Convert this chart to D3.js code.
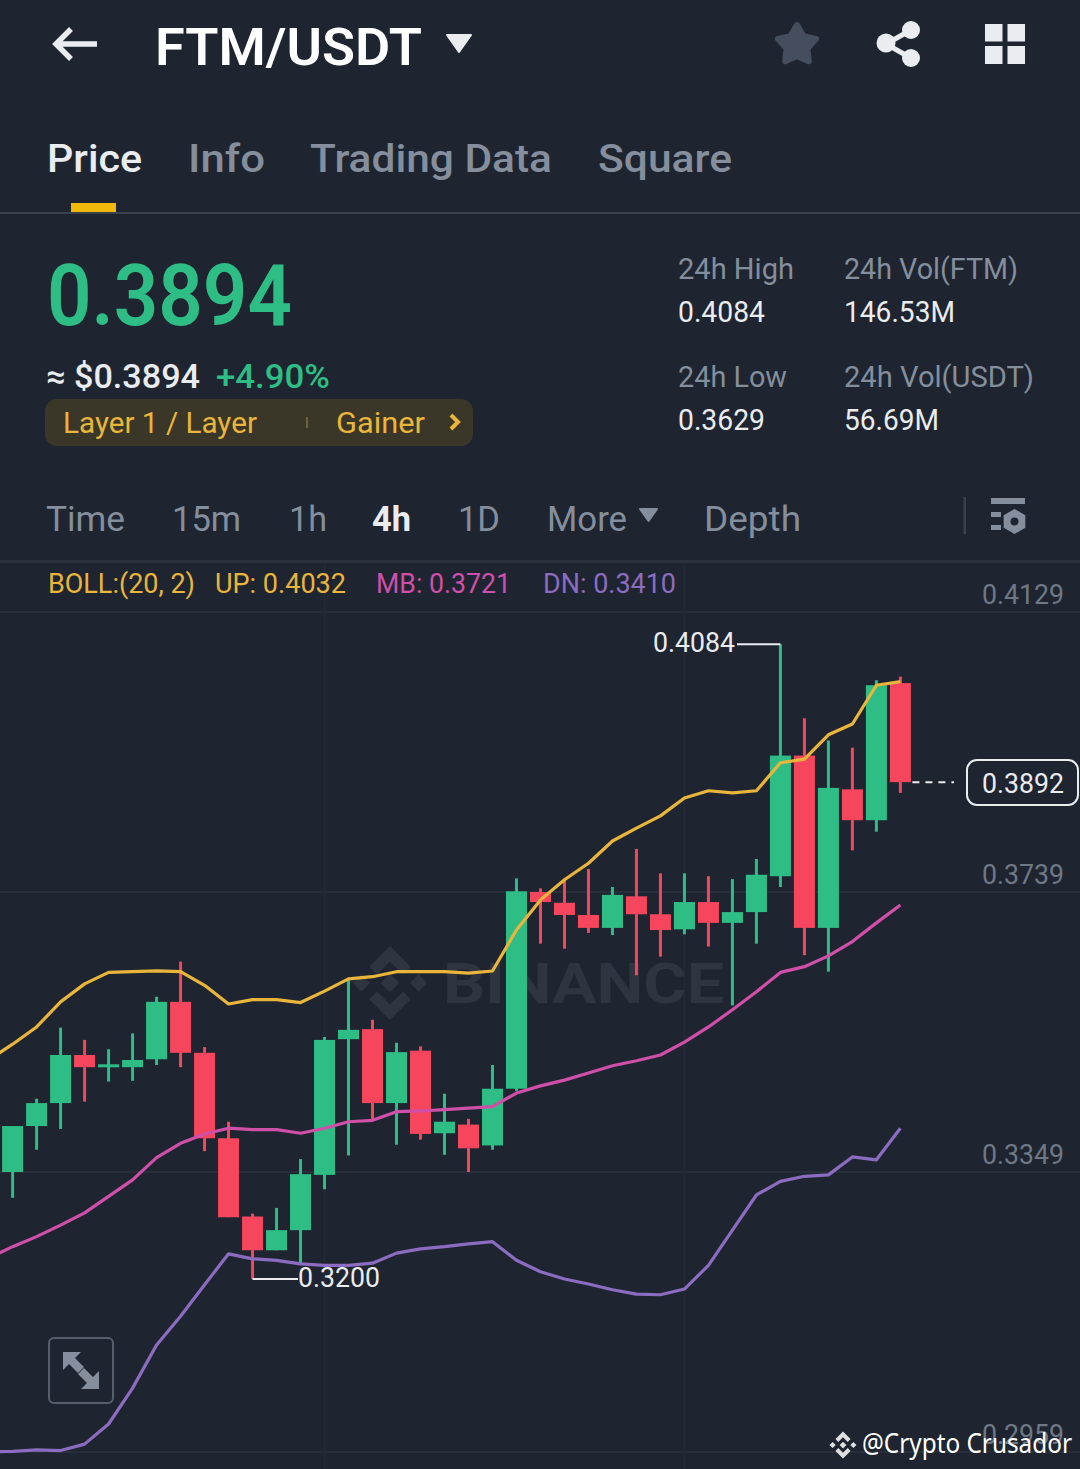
<!DOCTYPE html>
<html>
<head>
<meta charset="utf-8">
<title>FTM/USDT</title>
<script src="https://cdn.jsdelivr.net/npm/d3@7"></script>
<style>
    html, body { margin: 0; padding: 0; background: #1e2530; }
    svg { display: block; }
    text { font-family: Roboto, "Noto Sans", sans-serif; }
</style>
</head>
<body>
<div id="chart"></div>
<script>
// Candles, left to right, 4h
const opens = [0.3349,0.3413,0.3445,0.3512,0.3495,0.3495,0.3506,0.3586,0.3515,0.3396,0.3287,0.3240,0.3268,0.3345,0.3534,0.3548,0.3445,0.3518,0.3403,0.3415,0.3386,0.3465,0.3739,0.3724,0.3707,0.3689,0.3733,0.3708,0.3687,0.3725,0.3696,0.3711,0.3761,0.3929,0.3689,0.3882,0.3839,0.4030];
const closes = [0.3413,0.3445,0.3512,0.3495,0.3499,0.3505,0.3586,0.3515,0.3396,0.3286,0.3240,0.3268,0.3346,0.3533,0.3547,0.3445,0.3516,0.3402,0.3419,0.3382,0.3465,0.3740,0.3725,0.3707,0.3689,0.3735,0.3708,0.3686,0.3725,0.3696,0.3711,0.3763,0.3929,0.3689,0.3884,0.3839,0.4027,0.3892];
const highs = [0.3413,0.3451,0.3550,0.3533,0.3520,0.3542,0.3593,0.3642,0.3523,0.3419,0.3291,0.3299,0.3367,0.3537,0.3616,0.3561,0.3529,0.3524,0.3458,0.3423,0.3498,0.3758,0.3744,0.3756,0.3771,0.3746,0.3799,0.3765,0.3765,0.3761,0.3757,0.3785,0.4084,0.3981,0.3950,0.3940,0.4034,0.4039];
const lows = [0.3313,0.3380,0.3409,0.3447,0.3475,0.3476,0.3498,0.3495,0.3378,0.3286,0.3200,0.3240,0.3222,0.3325,0.3372,0.3421,0.3387,0.3394,0.3373,0.3349,0.3380,0.3462,0.3667,0.3660,0.3682,0.3679,0.3623,0.3649,0.3680,0.3663,0.3581,0.3667,0.3746,0.3651,0.3628,0.3797,0.3823,0.3877];

// Bollinger bands, they start one candle before the left edge
const bollUp = [0.3505,0.3527,0.3551,0.3586,0.3611,0.3627,0.3628,0.3629,0.3628,0.3609,0.3583,0.3589,0.3589,0.3585,0.3601,0.3618,0.3621,0.3628,0.3628,0.3628,0.3626,0.3629,0.3686,0.3728,0.3756,0.3779,0.3810,0.3828,0.3845,0.3870,0.3880,0.3877,0.3880,0.3919,0.3924,0.3958,0.3973,0.4027,0.4032];
const bollMid = [0.3229,0.3245,0.3259,0.3275,0.3292,0.3315,0.3338,0.3369,0.3389,0.3402,0.3410,0.3408,0.3408,0.3403,0.3410,0.3419,0.3421,0.3433,0.3434,0.3436,0.3438,0.3440,0.3459,0.3469,0.3477,0.3487,0.3497,0.3504,0.3512,0.3530,0.3551,0.3575,0.3600,0.3627,0.3635,0.3650,0.3670,0.3696,0.3721];
const bollDn = [0.2959,0.2960,0.2962,0.2961,0.2970,0.2998,0.3048,0.3108,0.3148,0.3192,0.3235,0.3228,0.3226,0.3221,0.3219,0.3219,0.3222,0.3236,0.3242,0.3245,0.3249,0.3252,0.3226,0.3210,0.3200,0.3193,0.3185,0.3179,0.3178,0.3186,0.3219,0.3268,0.3317,0.3336,0.3343,0.3345,0.3370,0.3366,0.3410];

// Axis and page texts
const priceTicks = [0.4129, 0.3739, 0.3349, 0.2959];
const timeGridCandles = [13, 28];
const highMark = 0.4084;
const lowMark = 0.3200;
const lastPrice = 0.3892;
const topTabs = ["Price", "Info", "Trading Data", "Square"];
const intervals = ["Time", "15m", "1h", "4h", "1D", "More", "Depth"];
const statLabels = ["24h High", "24h Vol(FTM)", "24h Low", "24h Vol(USDT)"];
const statValues = ["0.4084", "146.53M", "0.3629", "56.69M"];

const bg = "#1e2530";
const green = "#2ebd85";
const red = "#f6465d";
const white = "#eaecef";
const grey = "#848e9c";
const yellow = "#e9b53b";
const pink = "#cf4fa9";
const purple = "#8b6cc0";

const svg = d3.select("#chart").append("svg")
    .attr("width", 1080)
    .attr("height", 1469)
    .attr("viewBox", "0 0 1080 1469");

svg.append("rect").attr("width", 1080).attr("height", 1469).attr("fill", bg);

// Text helper, width forces the run to the same length as the screenshot
function label(txt, x, y, size, color, weight, anchor, width) {
    const t = svg.append("text")
        .attr("x", x).attr("y", y)
        .attr("font-size", size)
        .attr("font-weight", weight || 400)
        .attr("fill", color)
        .attr("text-anchor", anchor || "start")
        .text(txt);
    if (width) t.attr("textLength", width).attr("lengthAdjust", "spacingAndGlyphs");
    return t;
}

// Exchange logo: two chevrons, two side squares and a centre square
function logo(cx, cy, r, fill) {
    const shapes = [
        [[0, -1], [.56, -.44], [.35, -.23], [0, -.58], [-.35, -.23], [-.56, -.44]],
        [[0, 1], [.56, .44], [.35, .23], [0, .58], [-.35, .23], [-.56, .44]],
        [[-.77, -.23], [-.54, 0], [-.77, .23], [-1, 0]],
        [[.77, -.23], [1, 0], [.77, .23], [.54, 0]],
        [[0, -.25], [.25, 0], [0, .25], [-.25, 0]]
    ];
    const line = d3.line().x(p => cx + p[0] * r).y(p => cy + p[1] * r);
    svg.append("path").attr("d", shapes.map(s => line(s) + "Z").join("")).attr("fill", fill);
}

// Scales: price grid lines are 280px apart, candles 24px apart
const y = d3.scaleLinear().domain([0.2959, 0.4129]).range([1452, 612]);
const x = d3.scaleLinear().domain([0, 37]).range([12.6, 900.4]);

// ---- Header ----
svg.append("path").attr("d", "M97 44H57M71 29L56 44L71 59")
    .attr("fill", "none").attr("stroke", white).attr("stroke-width", 5.5);
label("FTM/USDT", 155, 65, 52, "#ffffff", 600, "start", 267);
svg.append("path").attr("d", "M447 35H471L459 52Z").attr("fill", white)
    .attr("stroke", white).attr("stroke-width", 2).attr("stroke-linejoin", "round");

const star = d3.range(10).map(i => {
    const r = i % 2 ? 11 : 20;
    const a = i * Math.PI / 5 - Math.PI / 2;
    return [797 + r * Math.cos(a), 45 + r * Math.sin(a)];
});
svg.append("path").attr("d", d3.line()(star) + "Z").attr("fill", "#454e5e")
    .attr("stroke", "#454e5e").attr("stroke-width", 6).attr("stroke-linejoin", "round");

svg.append("path").attr("d", "M911 30L886 44L911 58").attr("fill", "none")
    .attr("stroke", white).attr("stroke-width", 5);
[[911, 30, 9], [886, 43, 9.5], [911, 58, 9]].forEach(c => {
    svg.append("circle").attr("cx", c[0]).attr("cy", c[1]).attr("r", c[2]).attr("fill", white);
});
[[985, 24, 17.5, 17.5], [1007.5, 24, 17.5, 17.5], [985, 46, 17.5, 18], [1007.5, 46, 17.5, 18]].forEach(r => {
    svg.append("rect").attr("x", r[0]).attr("y", r[1]).attr("width", r[2]).attr("height", r[3]).attr("fill", white);
});

// ---- Tabs ----
const tabX = [47, 188, 310, 598];
const tabW = [95, 77, 242, 134];
topTabs.forEach((t, i) => {
    label(t, tabX[i], 172, 39, i === 0 ? white : grey, 500, "start", tabW[i]);
});
svg.append("rect").attr("x", 71).attr("y", 203).attr("width", 45).attr("height", 9).attr("fill", "#f0b90b");
svg.append("rect").attr("x", 0).attr("y", 212).attr("width", 1080).attr("height", 2).attr("fill", "#3a414c");

// ---- Price block ----
label("0.3894", 47, 325, 85, green, 600, "start", 245);
label("≈ $0.3894", 46, 388, 34, white, 500, "start", 154);
label("+4.90%", 216, 388, 34, green, 500, "start", 114);
svg.append("rect").attr("x", 45).attr("y", 399).attr("width", 428).attr("height", 47).attr("rx", 12).attr("fill", "#3a3729");
label("Layer 1 / Layer", 63, 433, 30, yellow, 400, "start", 194);
svg.append("rect").attr("x", 306).attr("y", 417).attr("width", 2).attr("height", 11).attr("fill", "#6b6239");
label("Gainer", 336, 433, 30, yellow, 400, "start", 89);
svg.append("path").attr("d", "M451 415L458 422L451 429").attr("fill", "none")
    .attr("stroke", yellow).attr("stroke-width", 4);

const statX = [678, 844, 678, 844];
const statLabelY = [279, 279, 387, 387];
const statLabelW = [116, 174, 109, 190];
const statValueW = [87, 111, 87, 95];
statLabels.forEach((t, i) => {
    label(t, statX[i], statLabelY[i], 30, grey, 400, "start", statLabelW[i]);
    label(statValues[i], statX[i], statLabelY[i] + 43, 29, white, 400, "start", statValueW[i]);
});

// ---- Interval bar ----
const intervalX = [46, 172, 289, 372, 458, 547, 704];
const intervalW = [79, 69, 38, 39, 42, 80, 97];
intervals.forEach((t, i) => {
    label(t, intervalX[i], 531, 35, t === "4h" ? white : grey, t === "4h" ? 700 : 400, "start", intervalW[i]);
});
svg.append("path").attr("d", "M640 509H657L648.5 521Z").attr("fill", grey)
    .attr("stroke", grey).attr("stroke-width", 2).attr("stroke-linejoin", "round");
svg.append("rect").attr("x", 963.5).attr("y", 497).attr("width", 2.5).attr("height", 37).attr("fill", "#3a414c");
svg.append("rect").attr("x", 991).attr("y", 498).attr("width", 34).attr("height", 6).attr("fill", grey);
svg.append("rect").attr("x", 991).attr("y", 512).attr("width", 10).attr("height", 5).attr("fill", grey);
svg.append("rect").attr("x", 991).attr("y", 525).attr("width", 10).attr("height", 5).attr("fill", grey);
const hex = d3.range(6).map(i => [1014.5 + 12.5 * Math.cos(i * Math.PI / 3 - Math.PI / 2), 521.5 + 12.5 * Math.sin(i * Math.PI / 3 - Math.PI / 2)]);
svg.append("path").attr("d", d3.line()(hex) + "Z").attr("fill", grey);
svg.append("circle").attr("cx", 1014.5).attr("cy", 521.5).attr("r", 4).attr("fill", bg);
svg.append("rect").attr("x", 0).attr("y", 560).attr("width", 1080).attr("height", 3).attr("fill", "#2c333e");

// ---- Grid ----
const grid = svg.append("g");
grid.selectAll("line.h").data(priceTicks).enter().append("line")
    .attr("x1", 0).attr("x2", 1080)
    .attr("y1", d => y(d)).attr("y2", d => y(d))
    .attr("stroke", "#272e39").attr("stroke-width", 2);
grid.selectAll("line.v").data(timeGridCandles).enter().append("line")
    .attr("x1", d => x(d)).attr("x2", d => x(d))
    .attr("y1", 563).attr("y2", 1469)
    .attr("stroke", "#242b36").attr("stroke-width", 1.5);

// ---- Watermark ----
const wm = "#2e3440";
logo(390, 983, 37, wm);
label("BINANCE", 443, 1003, 56, wm, 700, "start", 281);

// ---- Legend ----
label("BOLL:(20, 2)", 48, 593, 27, yellow, 400, "start", 147);
label("UP: 0.4032", 215, 593, 27, yellow, 400, "start", 131);
label("MB: 0.3721", 376, 593, 27, pink, 400, "start", 135);
label("DN: 0.3410", 543, 593, 27, purple, 400, "start", 133);

// ---- Price axis, labels sit above their grid line ----
const axis = d3.axisLeft(y).tickValues(priceTicks).tickFormat(d3.format(".4f")).tickSize(0).tickPadding(0);
const axisG = svg.append("g").attr("transform", "translate(1064,0)").call(axis);
axisG.select(".domain").remove();
axisG.selectAll("text")
    .attr("dy", "-8.5").attr("font-size", 27)
    .attr("fill", "#6f7885")
    .attr("text-anchor", "end")
    .attr("textLength", 82).attr("lengthAdjust", "spacingAndGlyphs");

// ---- Candles ----
const candles = opens.map((o, i) => ({ i: i, o: o, c: closes[i], h: highs[i], l: lows[i] }));
const color = d => d.c >= d.o ? green : red;
const candleG = svg.append("g");
candleG.selectAll("line").data(candles).enter().append("line")
    .attr("x1", d => x(d.i)).attr("x2", d => x(d.i))
    .attr("y1", d => y(d.h)).attr("y2", d => y(d.l))
    .attr("stroke", color).attr("stroke-width", 3);
candleG.selectAll("rect").data(candles).enter().append("rect")
    .attr("x", d => x(d.i) - 10.5)
    .attr("width", 21)
    .attr("y", d => y(Math.max(d.o, d.c)))
    .attr("height", d => Math.max(3, Math.abs(y(d.o) - y(d.c))))
    .attr("fill", color);

// ---- Bollinger lines ----
const bandLine = d3.line().x((d, i) => x(i - 1)).y(d => y(d));
[[bollDn, purple], [bollMid, pink], [bollUp, yellow]].forEach(b => {
    svg.append("path").attr("d", bandLine(b[0]))
        .attr("fill", "none").attr("stroke", b[1]).attr("stroke-width", 3.2)
        .attr("stroke-linejoin", "round");
});

// ---- High / low marks ----
const highIdx = highs.indexOf(highMark);
const lowIdx = lows.indexOf(lowMark);
svg.append("line").attr("x1", 737).attr("x2", x(highIdx)).attr("y1", y(highMark)).attr("y2", y(highMark))
    .attr("stroke", white).attr("stroke-width", 2);
label(highMark.toFixed(4), 735, 652, 27, white, 400, "end", 82);
svg.append("line").attr("x1", x(lowIdx)).attr("x2", 298).attr("y1", y(lowMark)).attr("y2", y(lowMark))
    .attr("stroke", white).attr("stroke-width", 2);
label(lowMark.toFixed(4), 298, 1287, 27, white, 400, "start", 82);

// ---- Last price ----
svg.append("line").attr("x1", x(37) + 12).attr("x2", 954).attr("y1", y(lastPrice)).attr("y2", y(lastPrice))
    .attr("stroke", white).attr("stroke-width", 2).attr("stroke-dasharray", "7 6");
svg.append("rect").attr("x", 967).attr("y", 760).attr("width", 111).attr("height", 45).attr("rx", 10)
    .attr("fill", bg).attr("stroke", white).attr("stroke-width", 2);
label(lastPrice.toFixed(4), 1023, 793, 28, white, 400, "middle", 82);

// ---- Fullscreen button ----
svg.append("rect").attr("x", 49).attr("y", 1338).attr("width", 64).attr("height", 65).attr("rx", 5)
    .attr("fill", "none").attr("stroke", "#565e6b").attr("stroke-width", 2);
const arrow = "M63 1352H81L75 1358L84 1367L78 1373L69 1364L63 1370Z";
svg.append("path").attr("d", arrow).attr("fill", grey);
svg.append("path").attr("d", arrow).attr("fill", grey).attr("transform", "rotate(180 81 1370.5)");

// ---- Author tag ----
logo(843, 1445, 13.5, "#e0e0e0");
label("@Crypto Crusador", 862, 1453, 27, "#ffffff", 400, "start", 210).style("font-family", "'Noto Sans', sans-serif");
</script>
</body>
</html>
